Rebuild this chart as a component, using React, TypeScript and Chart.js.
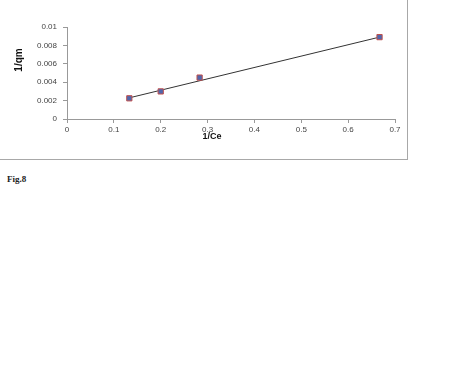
import React, { useEffect, useRef } from "react";
import { Chart, registerables } from "chart.js";

Chart.register(...registerables);

const invCe: number[] = [0.133, 0.2, 0.283, 0.667];
const invQm: number[] = [0.00225, 0.003, 0.0045, 0.0089];
const trendX: number[] = [0.133, 0.667];
const trendY: number[] = [0.0023, 0.0089];
const xTicks: number[] = [0, 0.1, 0.2, 0.3, 0.4, 0.5, 0.6, 0.7];
const yTicks: number[] = [0, 0.002, 0.004, 0.006, 0.008, 0.01];
const xTitle = "1/Ce";
const yTitle = "1/qm";
const figLabel = "Fig.8";

const titlesPlugin = {
  id: "axisTitles",
  afterDraw(chart: any) {
    const ctx = chart.ctx;
    ctx.save();
    ctx.fillStyle = "#111";
    ctx.textAlign = "center";
    ctx.textBaseline = "middle";
    ctx.font = "bold 9px 'Liberation Sans', Arial, sans-serif";
    ctx.fillText(xTitle, 212, 137);
    ctx.font = "bold 10px 'Liberation Sans', Arial, sans-serif";
    ctx.translate(19, 60);
    ctx.rotate(-Math.PI / 2);
    ctx.fillText(yTitle, 0, 0);
    ctx.restore();
  },
};

export default function App() {
  const ref = useRef<HTMLCanvasElement>(null);
  useEffect(() => {
    if (!ref.current) return;
    const chart = new Chart(ref.current, {
      type: "scatter",
      data: {
        datasets: [
          {
            label: "data",
            data: invCe.map((x, i) => ({ x, y: invQm[i] })),
            pointStyle: "rect",
            pointRadius: 3.7,
            pointBorderWidth: 1,
            backgroundColor: "#5067ad",
            borderColor: "#c0504d",
            showLine: false,
            order: 0,
          },
          {
            label: "trend",
            data: trendX.map((x, i) => ({ x, y: trendY[i] })),
            showLine: true,
            pointRadius: 0,
            borderColor: "#333333",
            borderWidth: 1,
            order: 1,
          },
        ],
      },
      options: {
        animation: false,
        responsive: false,
        maintainAspectRatio: false,
        layout: { padding: { left: 0, top: 27, right: 13, bottom: 0 } },
        plugins: { legend: { display: false }, tooltip: { enabled: false } },
        scales: {
          x: {
            type: "linear",
            min: 0,
            max: 0.7,
            afterBuildTicks: (s: any) => {
              s.ticks = xTicks.map((v) => ({ value: v }));
            },
            afterFit: (s: any) => {
              s.height = 41;
            },
            ticks: {
              font: { size: 8, family: "'Liberation Sans', Arial, sans-serif" },
              color: "#444",
              padding: 2,
              maxRotation: 0,
              callback: (v: any) => String(+Number(v).toFixed(3)),
            },
            grid: { drawOnChartArea: false, drawTicks: true, tickLength: 4, color: "#999" },
            border: { color: "#999" },
          },
          y: {
            type: "linear",
            min: 0,
            max: 0.01,
            afterBuildTicks: (s: any) => {
              s.ticks = yTicks.map((v) => ({ value: v }));
            },
            afterFit: (s: any) => {
              s.width = 67;
            },
            ticks: {
              font: { size: 8, family: "'Liberation Sans', Arial, sans-serif" },
              color: "#444",
              padding: 6,
              callback: (v: any) => String(+Number(v).toFixed(4)),
            },
            grid: { drawOnChartArea: false, drawTicks: true, tickLength: 4, color: "#999" },
            border: { color: "#999" },
          },
        },
      },
      plugins: [titlesPlugin],
    });
    return () => chart.destroy();
  }, []);

  return (
    <div style={{ position: "absolute", left: 0, top: 0, width: 474, height: 383, background: "#fff" }}>
      <div
        style={{
          position: "absolute",
          left: 0,
          top: 0,
          width: 407,
          height: 159,
          borderRight: "1px solid #a8a8a8",
          borderBottom: "1px solid #a8a8a8",
        }}
      />
      <canvas ref={ref} width={408} height={160} style={{ position: "absolute", left: 0, top: 0 }} />
      <div
        style={{
          position: "absolute",
          left: 7,
          top: 174,
          fontFamily: "'Liberation Serif', 'Times New Roman', serif",
          fontWeight: "bold",
          fontSize: 9,
          color: "#222",
        }}
      >
        {figLabel}
      </div>
    </div>
  );
}
